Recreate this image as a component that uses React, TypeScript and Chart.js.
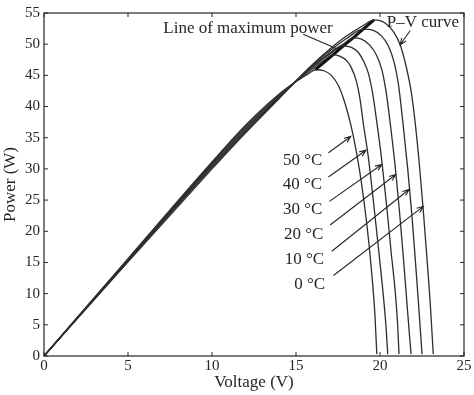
import React, { useEffect, useRef } from 'react';
import { Chart, registerables } from 'chart.js';

Chart.register(...registerables);

// ---- data ----
const temperatureLabels = ['0 °C', '10 °C', '20 °C', '30 °C', '40 °C', '50 °C'];

const voltage0 = [0, 5, 10, 12, 14, 15, 16, 17, 18, 19, 19.65, 20.3, 20.8, 21.2, 21.55, 21.85, 22.09, 22.35, 22.58, 22.8, 22.98, 23.1, 23.17];
const power0 = [0, 15.1, 30.0, 35.8, 41.3, 44.1, 46.8, 49.2, 51.3, 53.0, 53.9, 53.4, 52.0, 49.9, 46.5, 42.5, 37.5, 30.5, 23.2, 15.5, 8.9, 3.5, 0.3];

const voltage10 = [0, 5, 10, 12, 14, 15, 16, 17, 18, 19.0, 19.6, 20.1, 20.5, 20.85, 21.1, 21.36, 21.65, 21.9, 22.1, 22.28, 22.42, 22.5];
const power10 = [0, 15.2, 30.25, 36.0, 41.4, 44.1, 46.7, 48.9, 50.9, 52.4, 52.2, 51.3, 49.7, 47.0, 43.5, 37.5, 30.0, 22.5, 15.5, 8.9, 3.5, 0.3];

const voltage20 = [0, 5, 10, 12, 14, 15, 16, 17, 17.8, 18.4, 18.9, 19.4, 19.8, 20.1, 20.35, 20.6, 20.9, 21.15, 21.4, 21.6, 21.75, 21.85];
const power20 = [0, 15.3, 30.5, 36.25, 41.5, 44.1, 46.5, 48.6, 50.0, 51.0, 50.8, 49.8, 48.2, 46.0, 42.6, 37.5, 30.5, 23.5, 15.5, 8.6, 3.5, 0.3];

const voltage30 = [0, 5, 10, 12, 14, 15, 16, 17, 17.8, 18.3, 18.7, 19.0, 19.3, 19.55, 19.8, 20.1, 20.4, 20.65, 20.9, 21.05, 21.13];
const power30 = [0, 15.4, 30.7, 36.5, 41.65, 44.1, 46.4, 48.4, 49.7, 49.5, 48.7, 47.4, 45.4, 42.3, 37.7, 31.5, 24.0, 17.0, 10.5, 5.0, 0.3];

const voltage40 = [0, 5, 10, 12, 14, 15, 16, 16.7, 17.2, 17.6, 18.0, 18.3, 18.6, 18.8, 19.0, 19.3, 19.6, 19.9, 20.15, 20.35, 20.46];
const power40 = [0, 15.5, 30.9, 36.75, 41.8, 44.0, 46.1, 47.5, 48.3, 48.1, 47.4, 46.2, 44.0, 41.4, 37.4, 32.0, 25.0, 17.5, 11.0, 5.0, 0.3];

const voltage50 = [0, 5, 10, 12, 14, 15, 15.7, 16.14, 16.7, 17.1, 17.5, 17.8, 18.1, 18.4, 18.8, 19.2, 19.5, 19.7, 19.81];
const power50 = [0, 15.6, 31.1, 37.0, 42.0, 44.0, 45.2, 45.9, 45.7, 45.0, 43.5, 41.5, 38.8, 35.4, 29.5, 21.5, 13.5, 6.5, 0.3];

// maximum power points (50 °C ... 0 °C)
const mppVoltage = [16.14, 17.2, 17.8, 18.4, 19.0, 19.65];
const mppPower = [45.9, 48.3, 49.7, 51.0, 52.4, 53.9];

const xTickValues = [0, 5, 10, 15, 20, 25];
const yTickValues = [0, 5, 10, 15, 20, 25, 30, 35, 40, 45, 50, 55];

// annotation anchors in data units
const tempArrowTail = [[17.23, 12.9], [17.13, 16.8], [17.03, 21.0], [16.99, 24.8], [16.93, 28.7], [16.93, 32.6]];
const tempArrowTip = [[22.58, 24.0], [21.73, 26.7], [20.94, 29.1], [20.11, 30.7], [19.17, 33.0], [18.26, 35.2]];
const tempLabelAnchor = [[16.73, 10.8], [16.67, 14.8], [16.63, 18.8], [16.57, 22.7], [16.56, 26.7], [16.57, 30.67]];
const mppLabel = 'Line of maximum power';
const mppLabelAnchor = [7.1, 51.86];
const mppPointer = [[15.43, 51.6], [17.5, 49.2]];
const pvLabel = 'P–V curve';
const pvLabelAnchor = [20.4, 52.8];
const pvArrow = [[21.8, 52.2], [21.2, 49.9]];

const SERIF = "'Liberation Serif', 'Times New Roman', serif";
const INK = '#262626';

function toXY(vs: number[], ps: number[]) {
  return vs.map((v, i) => ({ x: v, y: ps[i] }));
}

const decorPlugin = {
  id: 'decor',
  afterDraw(chart: any) {
    const { ctx, chartArea, scales } = chart;
    const { left, right, top, bottom } = chartArea;
    const xs = scales.x;
    const ys = scales.y;
    const px = (v: number) => xs.getPixelForValue(v);
    const py = (v: number) => ys.getPixelForValue(v);
    ctx.save();
    // frame
    ctx.strokeStyle = INK;
    ctx.lineWidth = 1.2;
    ctx.strokeRect(left, top, right - left, bottom - top);
    // inward ticks on all sides
    const tl = 4;
    ctx.lineWidth = 1;
    ctx.beginPath();
    xTickValues.forEach((v) => {
      const x = px(v);
      ctx.moveTo(x, bottom); ctx.lineTo(x, bottom - tl);
      ctx.moveTo(x, top); ctx.lineTo(x, top + tl);
    });
    yTickValues.forEach((v) => {
      const y = py(v);
      ctx.moveTo(left, y); ctx.lineTo(left + tl, y);
      ctx.moveTo(right, y); ctx.lineTo(right - tl, y);
    });
    ctx.stroke();

    const arrow = (x1: number, y1: number, x2: number, y2: number) => {
      ctx.beginPath();
      ctx.moveTo(x1, y1); ctx.lineTo(x2, y2);
      const a = Math.atan2(y2 - y1, x2 - x1);
      const h = 7, w = 0.38;
      ctx.moveTo(x2 - h * Math.cos(a - w), y2 - h * Math.sin(a - w));
      ctx.lineTo(x2, y2);
      ctx.lineTo(x2 - h * Math.cos(a + w), y2 - h * Math.sin(a + w));
      ctx.stroke();
    };

    ctx.strokeStyle = INK;
    ctx.lineWidth = 1.1;
    ctx.fillStyle = INK;
    ctx.font = `17px ${SERIF}`;
    ctx.textBaseline = 'alphabetic';
    // temperature labels and arrows
    temperatureLabels.forEach((lab, i) => {
      const t = tempArrowTail[i];
      const h = tempArrowTip[i];
      arrow(px(t[0]), py(t[1]), px(h[0]), py(h[1]));
      const a = tempLabelAnchor[i];
      ctx.textAlign = 'right';
      ctx.fillText(lab, px(a[0]), py(a[1]));
    });
    // line of maximum power label and pointer
    ctx.textAlign = 'left';
    ctx.fillText(mppLabel, px(mppLabelAnchor[0]), py(mppLabelAnchor[1]));
    ctx.beginPath();
    ctx.moveTo(px(mppPointer[0][0]), py(mppPointer[0][1]));
    ctx.lineTo(px(mppPointer[1][0]), py(mppPointer[1][1]));
    ctx.stroke();
    // P-V curve label and arrow
    ctx.fillText(pvLabel, px(pvLabelAnchor[0]), py(pvLabelAnchor[1]));
    arrow(px(pvArrow[0][0]), py(pvArrow[0][1]), px(pvArrow[1][0]), py(pvArrow[1][1]));
    ctx.restore();
  },
};

export default function App() {
  const ref = useRef<HTMLCanvasElement | null>(null);
  useEffect(() => {
    if (!ref.current) return;
    const curves = [
      toXY(voltage0, power0),
      toXY(voltage10, power10),
      toXY(voltage20, power20),
      toXY(voltage30, power30),
      toXY(voltage40, power40),
      toXY(voltage50, power50),
    ];
    const datasets: any[] = curves.map((d, i) => ({
      label: temperatureLabels[i],
      data: d,
      borderColor: '#2e2e2e',
      borderWidth: 1.3,
      pointRadius: 0,
      cubicInterpolationMode: 'monotone',
      fill: false,
    }));
    datasets.push({
      label: 'Line of maximum power',
      data: toXY(mppVoltage, mppPower),
      borderColor: '#111',
      borderWidth: 3,
      pointRadius: 0,
      tension: 0,
      fill: false,
    });
    const chart = new Chart(ref.current, {
      type: 'line',
      data: { datasets },
      options: {
        animation: false,
        responsive: false,
        layout: { padding: { top: 9.5, right: 10, left: 0, bottom: 0 } },
        plugins: { legend: { display: false }, tooltip: { enabled: false } },
        scales: {
          x: {
            type: 'linear',
            min: 0,
            max: 25,
            grid: { display: false, drawTicks: false },
            border: { display: false },
            ticks: { stepSize: 5, color: INK, font: { family: SERIF, size: 15 }, padding: 1, maxRotation: 0, autoSkip: false },
            title: { display: true, text: 'Voltage (V)', color: INK, font: { family: SERIF, size: 17 }, padding: { top: 0, bottom: 2 } },
            afterFit: (s: any) => { s.height = 39; },
          },
          y: {
            type: 'linear',
            min: 0,
            max: 55,
            grid: { display: false, drawTicks: false },
            border: { display: false },
            ticks: { stepSize: 5, color: INK, font: { family: SERIF, size: 15 }, padding: 4, autoSkip: false },
            title: { display: true, text: 'Power (W)', color: INK, font: { family: SERIF, size: 17 }, padding: { top: 0, bottom: 1 } },
            afterFit: (s: any) => { s.width = 44; },
          },
        },
      },
      plugins: [decorPlugin],
    });
    return () => chart.destroy();
  }, []);
  return (
    <div style={{ position: 'fixed', left: 0, top: 0, width: 474, height: 395, background: '#fff' }}>
      <canvas ref={ref} width={474} height={395} style={{ display: 'block' }} />
    </div>
  );
}
